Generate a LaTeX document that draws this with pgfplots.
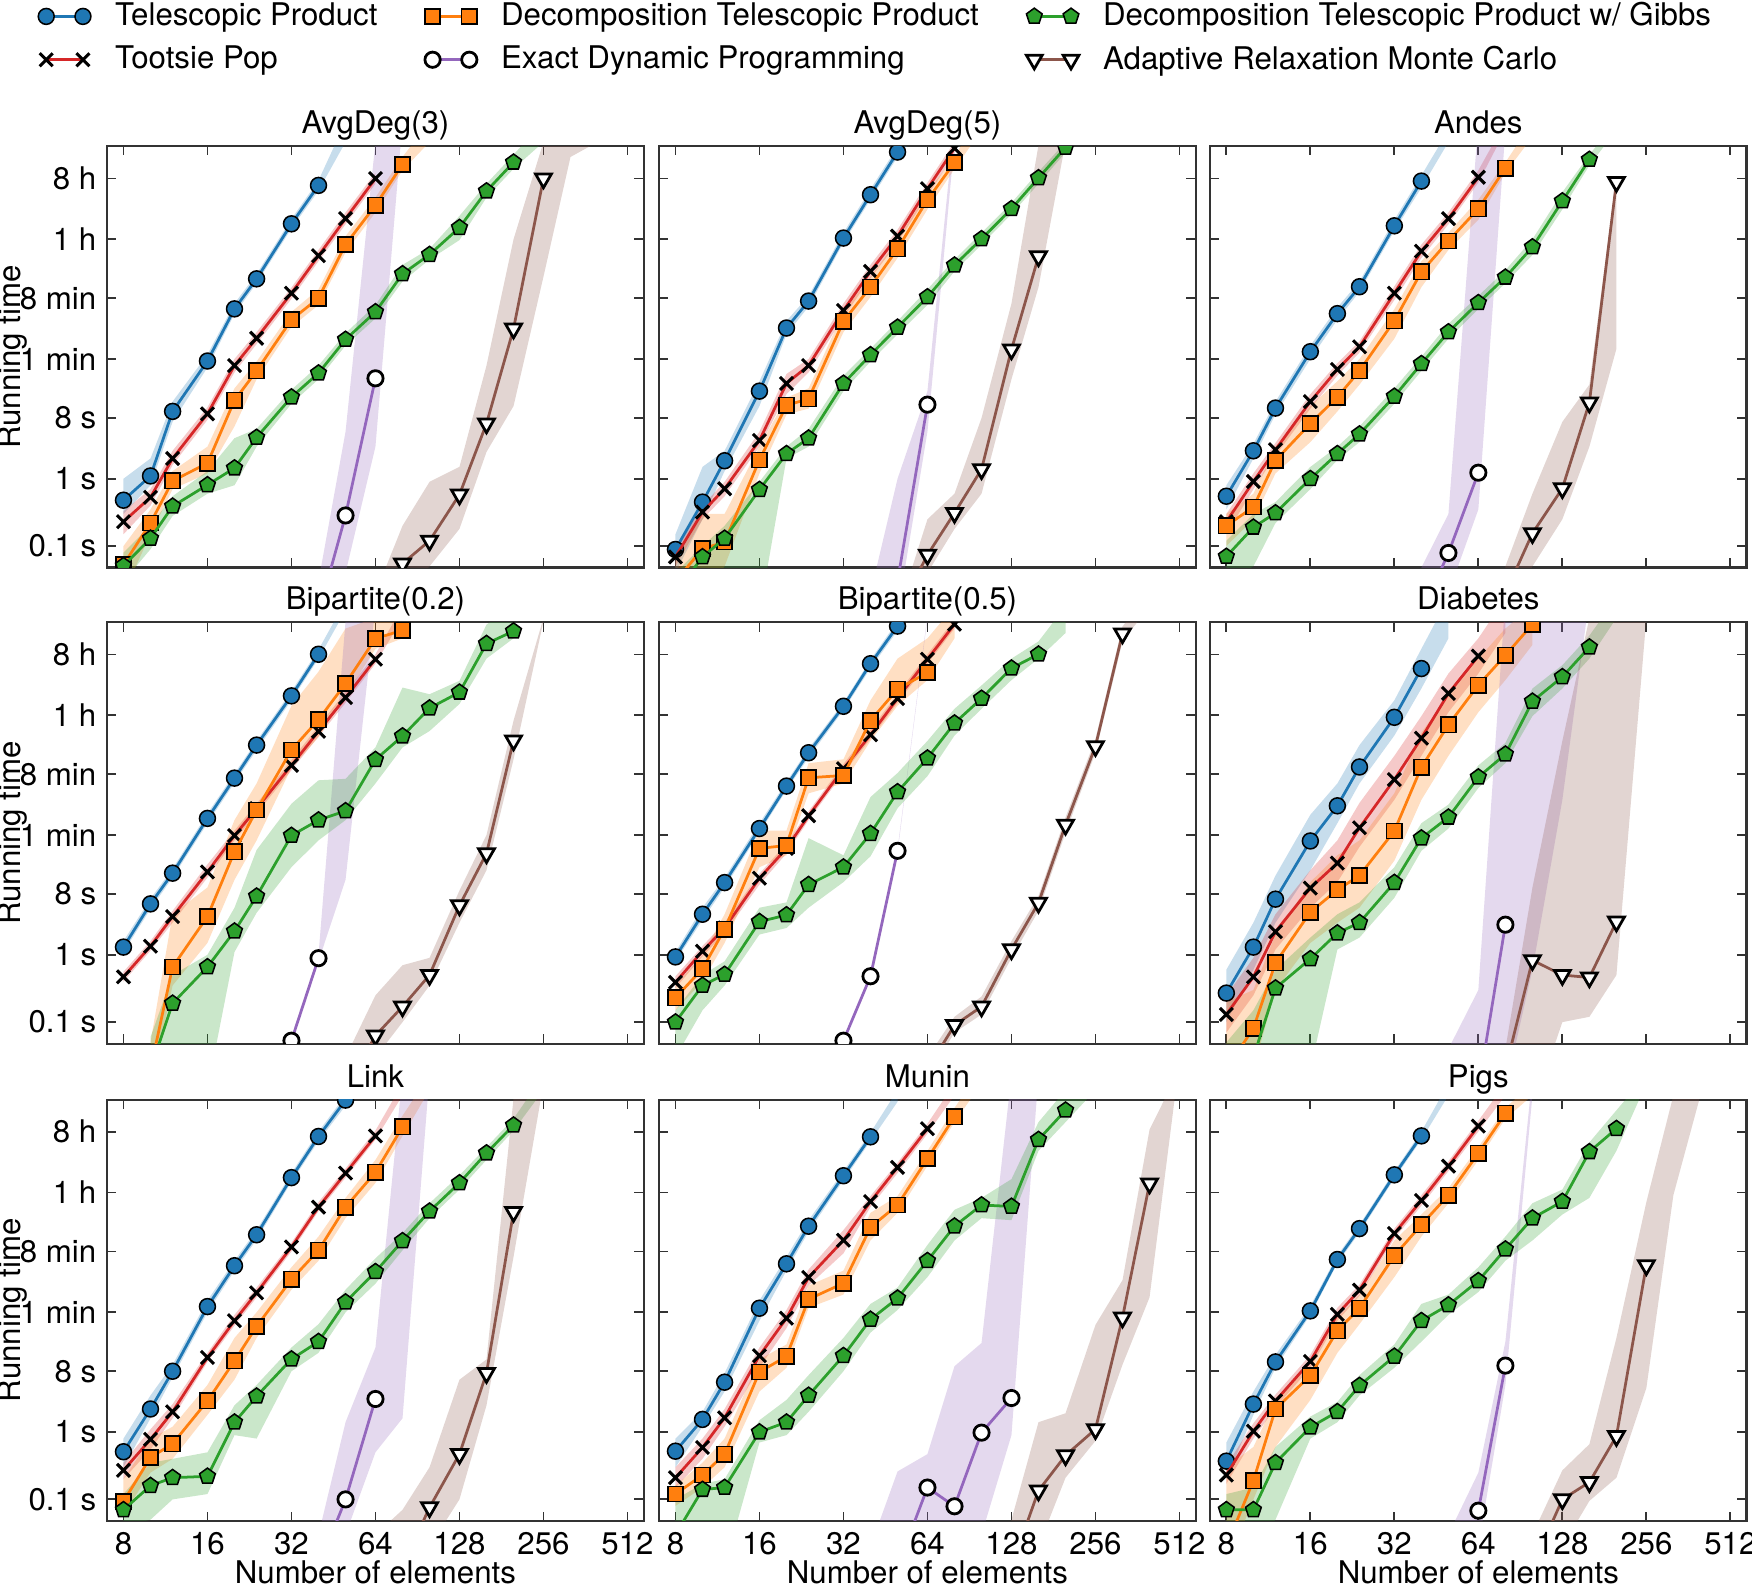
\documentclass[border=0pt]{standalone}
\usepackage{fontspec}
\setmainfont{TeX Gyre Heros}
\usepackage{pgfplots}
\usepackage{pgfplotstable}
\pgfplotsset{compat=1.18}
\usepgfplotslibrary{fillbetween}
\definecolor{cA}{RGB}{31,119,180}
\definecolor{cB}{RGB}{214,39,40}
\definecolor{cC}{RGB}{255,127,14}
\definecolor{cD}{RGB}{148,103,189}
\definecolor{cE}{RGB}{44,160,44}
\definecolor{cF}{RGB}{140,86,75}
\pgfplotsset{legend image code/.code={\draw[mark repeat=2,mark phase=1,#1] plot coordinates {(0pt,0pt) (6pt,0pt) (12pt,0pt)};}}
\newcommand{\band}[2]{%
 \addplot[draw=none, forget plot, name path=lo#2] table[x=x,y=lo]{#1};
 \addplot[draw=none, forget plot, name path=hi#2] table[x=x,y=hi]{#1};
 \addplot[fill=#2, fill opacity=0.25, draw=none, forget plot] fill between[of=lo#2 and hi#2];
}
\newcommand{\serA}[1]{\band{#1}{cA}\addplot[cA, line width=0.9pt, mark=*, mark size=2.6pt, mark options={fill=cA, draw=black, line width=0.5pt}, forget plot] table[x=x,y=y]{#1};}
\newcommand{\serB}[1]{\band{#1}{cB}\addplot[cB, line width=0.9pt, mark=x, mark size=3pt, mark options={draw=black, line width=1pt}, forget plot] table[x=x,y=y]{#1};}
\newcommand{\serC}[1]{\band{#1}{cC}\addplot[cC, line width=0.9pt, mark=square*, mark size=2.5pt, mark options={fill=cC, draw=black, line width=0.5pt}, forget plot] table[x=x,y=y]{#1};}
\newcommand{\serD}[1]{\band{#1}{cD}\addplot[cD, line width=0.9pt, mark=*, mark size=2.5pt, mark options={fill=white, draw=black, line width=0.9pt}, forget plot] table[x=x,y=y]{#1};}
\newcommand{\serE}[1]{\band{#1}{cE}\addplot[cE, line width=0.9pt, mark=pentagon*, mark size=2.7pt, mark options={fill=cE, draw=black, line width=0.5pt}, forget plot] table[x=x,y=y]{#1};}
\newcommand{\serF}[1]{\band{#1}{cF}\addplot[cF, line width=0.9pt, mark=triangle*, mark size=3pt, mark options={fill=white, draw=black, line width=0.9pt, rotate=180}, forget plot] table[x=x,y=y]{#1};}
\renewcommand{\normalsize}{\fontsize{10.2}{12.2}\selectfont}
\begin{document}
\normalsize
% ---------------- AvgDeg(3)
\pgfplotstableread{
x y lo hi
8 0.48 0.3 1.0
10 1.1 0.8 2.0
12 10 7 14
16 56 45 70
20 333 280 400
24 930 800 1100
32 6100 5200 7200
40 22700 19000 27000
50 nan 100000 200000
}\dAa
\pgfplotstableread{
x y lo hi
8 0.23 0.15 0.33
10 0.53 0.4 0.7
12 2.0 1.6 2.6
16 9.2 7.5 11.5
20 48 38 60
24 122 100 150
32 570 470 690
40 2050 1700 2500
50 7300 6000 9000
64 28700 24000 35000
}\dAb
\pgfplotstableread{
x y lo hi
8 0.053 0.02 0.1
10 0.22 0.15 0.35
12 0.93 0.7 1.3
16 1.7 1.2 3.0
20 14.6 6 22
24 40 30 55
32 230 180 300
40 480 380 650
50 3000 2300 4000
64 11500 9000 15000
80 46500 38000 60000
100 nan 100000 200000
}\dAc
\pgfplotstableread{
x y lo hi
40 0.01 0.005 0.03
50 0.285 0.04 5
64 31 3 100000
80 nan 200000 300000
}\dAd
\pgfplotstableread{
x y lo hi
8 0.051 0.03 0.08
10 0.13 0.09 0.2
12 0.39 0.28 0.55
16 0.81 0.6 1.3
20 1.44 0.8 4
24 4.1 3 5.5
32 16.3 13 21
40 37 30 48
50 117 95 145
64 300 240 380
80 1100 850 1500
100 2130 1800 2600
128 5360 3500 8000
160 18700 15000 24000
200 50000 40000 65000
256 nan 100000 200000
}\dAe
\pgfplotstableread{
x y lo hi
64 0.01 0.005 0.02
80 0.055 0.02 0.2
100 0.12 0.05 0.9
128 0.58 0.18 1.5
160 6.6 2.5 48
200 169 12 3600
256 28700 1000 100000
320 nan 60000 200000
400 nan 100000 300000
}\dAf
% ---------------- AvgDeg(5)
\pgfplotstableread{
x y lo hi
8 0.089 0.04 0.15
10 0.45 0.25 1.5
12 1.85 1.3 2.6
16 20 12 28
20 173 140 220
24 435 360 520
32 3750 3200 4500
40 16500 14000 20000
50 71000 60000 85000
64 nan 200000 300000
}\dBa
\pgfplotstableread{
x y lo hi
8 0.069 0.05 0.1
10 0.32 0.25 0.4
12 0.71 0.55 0.9
16 3.7 3 5
20 26 18 36
24 48 38 60
32 316 250 400
40 1200 950 1500
50 4000 3200 5000
64 20300 16000 25000
80 81000 65000 100000
}\dBb
\pgfplotstableread{
x y lo hi
8 0.03 0.01 0.06
10 0.091 0.02 0.3
12 0.115 0.05 0.3
16 1.9 1.2 3
20 12.3 9 16
24 15.4 11 22
32 218 150 300
40 705 500 1000
50 2600 1900 3500
64 13900 10000 18000
80 49500 40000 60000
100 nan 150000 300000
}\dBc
\pgfplotstableread{
x y lo hi
40 nan 0.005 0.02
50 0.03 0.01 1.0
64 12.6 5 20
80 nan 100000 200000
}\dBd
\pgfplotstableread{
x y lo hi
8 0.02 0.005 0.04
10 0.069 0.01 0.1
12 0.13 0.01 0.2
16 0.69 0.01 0.9
20 2.35 2.0 3.0
24 4.0 3.0 5.5
32 26 20 34
40 69 55 85
50 177 140 220
64 500 380 650
80 1480 1200 1800
100 3650 3000 4500
128 10200 8500 12500
160 29300 24000 36000
200 83000 70000 100000
256 nan 200000 300000
}\dBe
\pgfplotstableread{
x y lo hi
50 0.01 0.005 0.01
64 0.074 0.04 0.25
80 0.31 0.18 0.6
100 1.38 0.6 8
128 83 30 400
160 2000 700 90000
200 nan 100000 300000
}\dBf
% ---------------- Andes
\pgfplotstableread{
x y lo hi
8 0.55 0.35 0.8
10 2.6 2 3.3
12 11.2 9 14
16 77 60 95
20 283 230 350
24 710 600 850
32 5700 4800 7000
40 26300 21000 32000
50 nan 100000 150000
}\dCa
\pgfplotstableread{
x y lo hi
8 0.23 0.15 0.3
10 0.91 0.7 1.2
12 2.7 2.2 3.4
16 14 11 18
20 42 34 52
24 91 75 110
32 570 450 720
40 2400 1900 3000
50 7300 6000 9000
64 30000 25000 38000
80 nan 150000 200000
}\dCb
\pgfplotstableread{
x y lo hi
8 0.2 0.1 0.3
10 0.38 0.25 0.6
12 1.87 1.2 3
16 6.6 3.5 12
20 16.3 10 28
24 40 25 60
32 222 120 330
40 1180 700 1700
50 3400 2500 4500
64 10200 7000 14000
80 41000 35000 50000
100 nan 120000 200000
}\dCc
\pgfplotstableread{
x y lo hi
40 0.01 0.005 0.048
50 0.079 0.02 0.3
64 1.23 0.35 200000
80 nan 150000 300000
}\dCd
\pgfplotstableread{
x y lo hi
8 0.07 0.03 0.12
10 0.19 0.05 0.3
12 0.31 0.22 0.45
16 1.0 0.7 1.5
20 2.35 1.9 3
24 4.6 3.5 6
32 16.7 13 22
40 51 40 65
50 151 120 200
64 410 330 520
80 980 800 1250
100 2760 2100 3600
128 13300 10000 18000
160 55000 45000 65000
200 nan 150000 200000
}\dCe
\pgfplotstableread{
x y lo hi
80 0.02 0.01 0.05
100 0.155 0.05 0.6
128 0.72 0.25 7
160 13.5 3 25
200 25500 85 32000
}\dCf
% ---------------- Bipartite(0.2)
\pgfplotstableread{
x y lo hi
8 1.3 1.1 1.6
10 5.7 4.8 6.8
12 16.3 14 19
16 106 90 125
20 420 360 490
24 1300 1100 1500
32 7000 6000 8200
40 29000 25000 34000
50 nan 130000 180000
}\dDa
\pgfplotstableread{
x y lo hi
8 0.47 0.4 0.56
10 1.34 1.15 1.6
12 3.7 3 4.5
16 17 14 22
20 59 50 70
24 148 125 175
32 650 550 780
40 2080 1750 2500
50 6600 5500 8000
64 24500 21000 29000
80 nan 100000 150000
}\dDb
\pgfplotstableread{
x y lo hi
10 0.02 0.01 0.05
12 0.66 0.35 4
16 3.7 1.5 10
20 34 13 100
24 141 50 350
32 1100 600 5000
40 3100 1700 16000
50 10700 7000 70000
64 49500 35000 100000
80 66000 50000 150000
}\dDc
\pgfplotstableread{
x y lo hi
32 0.053 0.05 0.06
40 0.89 0.8 1.0
50 nan 13 90000
64 nan 150000 200000
}\dDd
\pgfplotstableread{
x y lo hi
10 0.02 0.005 0.06
12 0.19 0.01 0.5
16 0.66 0.01 1.0
20 2.24 1.1 5
24 7.4 4.2 36
32 59 20 175
40 100 50 390
50 137 100 410
64 790 350 1200
80 1770 1200 9300
100 4600 2100 7400
128 7900 5300 11700
160 41700 25000 80000
200 64000 50000 150000
}\dDe
\pgfplotstableread{
x y lo hi
50 0.01 0.005 0.03
64 0.063 0.03 0.25
80 0.17 0.1 0.7
100 0.5 0.35 0.9
128 5.4 3 9
160 32 18 60
200 1520 800 3000
256 nan 90000 100000
}\dDf
% ---------------- Bipartite(0.5)
\pgfplotstableread{
x y lo hi
8 0.93 0.8 1.1
10 4.0 3.3 5
12 11.8 10 14
16 75 65 90
20 320 280 370
24 1000 850 1150
32 4900 4300 5600
40 21000 18000 24000
50 76000 65000 90000
}\dEa
\pgfplotstableread{
x y lo hi
8 0.39 0.32 0.48
10 1.13 0.95 1.35
12 2.5 2.1 3
16 13.7 11 16
20 38 32 45
24 116 100 135
32 580 500 680
40 1850 1600 2200
50 6400 5500 7500
64 24500 21000 29000
80 81000 70000 95000
}\dEb
\pgfplotstableread{
x y lo hi
8 0.23 0.15 0.35
10 0.62 0.4 1.0
12 2.4 1.5 4
16 38 20 70
20 42 30 70
24 425 250 700
32 460 350 800
40 3000 1500 6000
50 8800 5000 25000
64 15500 12000 50000
80 nan 50000 150000
}\dEc
\pgfplotstableread{
x y lo hi
32 0.053 0.05 0.056
40 0.48 0.46 0.5
50 35 33 37
64 nan 100000 110000
}\dEd
\pgfplotstableread{
x y lo hi
8 0.1 0.03 0.15
10 0.35 0.15 0.5
12 0.51 0.35 0.8
16 3.1 2 5
20 3.9 2.5 6
24 11 5 54
32 20 12 30
40 63 29 220
50 262 150 500
64 830 450 1500
80 2750 1800 4500
100 6400 4500 10000
128 18000 12000 25000
160 29000 25000 45000
200 nan 60000 150000
}\dEe
\pgfplotstableread{
x y lo hi
64 0.02 0.015 0.03
80 0.09 0.07 0.12
100 0.17 0.13 0.24
128 1.2 0.9 1.6
160 5.9 4.5 7.5
200 85 65 110
256 1250 1000 1600
320 59000 45000 75000
400 nan 150000 250000
}\dEf
% ---------------- Diabetes
\pgfplotstableread{
x y lo hi
8 0.27 0.1 0.6
10 1.3 0.6 3
12 6.7 3 15
16 49 18 120
20 163 90 350
24 615 350 1300
32 3360 1800 6000
40 17800 9000 35000
50 nan 50000 200000
}\dFa
\pgfplotstableread{
x y lo hi
8 0.13 0.07 0.25
10 0.47 0.25 0.9
12 2.2 1.2 4
16 9.8 5 18
20 23 12 50
24 77 40 180
32 400 200 900
40 1650 900 3500
50 7600 4000 15000
64 27300 15000 50000
80 nan 60000 200000
}\dFb
\pgfplotstableread{
x y lo hi
8 0.02 0.005 0.2
10 0.081 0.02 0.3
12 0.76 0.3 2
16 4.3 1.5 12
20 9.2 3 30
24 15 5 50
32 69 25 250
40 610 200 2000
50 2600 900 7000
64 10100 4000 25000
80 28000 12000 70000
100 81000 40000 150000
}\dFc
\pgfplotstableread{
x y lo hi
50 nan 0.005 0.04
64 0.01 0.005 0.3
80 2.8 0.01 200000
100 nan 0.6 300000
128 nan 200 300000
160 nan 200000 300000
}\dFd
\pgfplotstableread{
x y lo hi
8 nan 0.005 0.05
10 0.03 0.01 0.15
12 0.32 0.02 0.6
16 0.87 0.02 1.8
20 2.1 1.2 4
24 3.0 1.8 6
32 11.8 7 20
40 54 35 90
50 110 75 170
64 435 300 650
80 950 700 1400
100 5800 3500 9000
128 13400 9000 20000
160 37000 25000 55000
200 nan 100000 200000
}\dFe
\pgfplotstableread{
x y lo hi
80 0.02 0.005 0.04
100 0.83 0.005 10
128 0.5 0.1 1500
160 0.46 0.12 100000
200 3.1 0.5 200000
256 nan 100000 200000
}\dFf
% ---------------- Link
\pgfplotstableread{
x y lo hi
8 0.51 0.3 0.8
10 2.2 1.6 3.5
12 8.0 6.5 10
16 73 60 90
20 295 250 350
24 850 720 1000
32 6000 5200 7000
40 24500 21000 29000
50 85000 70000 100000
}\dGa
\pgfplotstableread{
x y lo hi
8 0.27 0.2 0.35
10 0.78 0.55 1.1
12 2.0 1.6 2.6
16 12.8 11 15
20 45 38 55
24 117 100 140
32 560 480 650
40 2190 1900 2600
50 7000 6000 8200
64 25000 22000 30000
80 nan 100000 150000
}\dGb
\pgfplotstableread{
x y lo hi
8 0.093 0.06 0.2
10 0.42 0.25 0.8
12 0.67 0.4 1.2
16 2.9 1.8 5
20 11.4 6 25
24 37 25 60
32 185 130 280
40 500 350 800
50 2190 1500 3000
64 7200 5000 11000
80 34000 25000 50000
100 nan 120000 200000
}\dGc
\pgfplotstableread{
x y lo hi
40 0.01 0.005 0.03
50 0.1 0.03 1.4
64 3.1 0.5 18
80 nan 1.6 200000
100 nan 200000 300000
}\dGd
\pgfplotstableread{
x y lo hi
8 0.07 0.04 0.12
10 0.16 0.05 0.35
12 0.21 0.1 0.4
16 0.22 0.12 0.5
20 1.4 0.9 2.5
24 3.4 0.8 5
32 12.1 8 18
40 22 15 40
50 85 60 130
64 240 160 380
80 690 500 900
100 1900 1500 2500
128 5000 4000 6500
160 13900 11000 17000
200 36000 30000 45000
256 nan 120000 200000
}\dGe
\pgfplotstableread{
x y lo hi
64 nan 0.005 0.03
80 0.01 0.005 0.07
100 0.076 0.02 0.3
128 0.47 0.1 6
160 7.5 2.5 12
200 1850 400 90000
256 nan 150000 200000
}\dGf
% ---------------- Munin
\pgfplotstableread{
x y lo hi
8 0.52 0.3 0.8
10 1.54 1.2 2.0
12 5.5 4 7.5
16 69 45 90
20 315 250 400
24 1140 950 1400
32 6400 5500 7500
40 24200 21000 28000
50 nan 80000 120000
}\dHa
\pgfplotstableread{
x y lo hi
8 0.21 0.15 0.3
10 0.59 0.4 0.8
12 1.63 1.2 2.2
16 13.6 9 18
20 49 35 65
24 198 150 260
32 705 450 1000
40 2650 2200 3200
50 8500 7000 10000
64 32000 27000 38000
80 nan 100000 150000
}\dHb
\pgfplotstableread{
x y lo hi
8 0.12 0.08 0.16
10 0.23 0.15 0.35
12 0.47 0.3 0.8
16 7.8 4 12
20 13.3 9 20
24 94 70 150
32 162 110 250
40 1100 700 1800
50 2350 1800 3200
64 11500 9000 15000
80 48000 40000 65000
100 nan 150000 250000
}\dHc
\pgfplotstableread{
x y lo hi
40 nan 0.005 0.02
50 0.01 0.01 0.26
64 0.15 0.02 0.47
80 0.079 0.02 9.5
100 0.98 0.03 21
128 3.2 0.9 200000
160 nan 200000 300000
}\dHd
\pgfplotstableread{
x y lo hi
8 0.03 0.005 0.1
10 0.14 0.005 0.17
12 0.15 0.01 0.2
16 1.0 0.7 1.5
20 1.4 0.9 3
24 3.5 2 7
32 13.6 8 25
40 47 30 80
50 97 65 140
64 350 200 600
80 1140 700 2000
100 2350 1500 3000
128 2240 1400 5700
160 22000 15000 40000
200 60000 40000 120000
256 nan 120000 200000
}\dHe
\pgfplotstableread{
x y lo hi
128 0.01 0.005 0.05
160 0.135 0.02 1.4
200 0.45 0.21 1.9
256 1.1 0.74 39
320 50 10 180
400 4900 100 31000
500 nan 150000 200000
}\dHf
% ---------------- Pigs
\pgfplotstableread{
x y lo hi
8 0.37 0.2 0.7
10 2.6 1.8 4
12 11 9 14
16 63 55 75
20 365 320 420
24 1050 920 1200
32 6600 5800 7500
40 25000 22000 29000
50 nan 100000 150000
}\dIa
\pgfplotstableread{
x y lo hi
8 0.23 0.17 0.32
10 1.03 0.8 1.35
12 2.9 2.3 3.6
16 11.2 9 14
20 56 45 70
24 128 105 155
32 890 750 1050
40 2750 2300 3300
50 8900 7500 10500
64 35000 29000 42000
80 nan 100000 150000
}\dIb
\pgfplotstableread{
x y lo hi
8 0.02 0.01 0.3
10 0.19 0.1 0.6
12 2.2 0.6 3
16 6.9 3 10
20 32 15 50
24 69 40 110
32 415 200 700
40 1200 800 1700
50 3300 2500 4200
64 13800 11000 17000
80 54000 45000 65000
100 nan 100000 150000
128 nan 150000 250000
}\dIc
\pgfplotstableread{
x y lo hi
50 nan 0.02 0.03
64 0.068 0.02 0.25
80 9.7 5 22
100 nan 100000 200000
}\dId
\pgfplotstableread{
x y lo hi
8 0.07 0.02 0.12
10 0.07 0.02 0.15
12 0.35 0.05 0.6
16 1.18 0.8 1.7
20 2.0 1.4 2.8
24 4.9 3.5 7
32 13.3 9 20
40 45 22 80
50 77 55 110
64 176 120 280
80 520 350 800
100 1500 700 2500
128 2650 1700 4000
160 14500 3000 20000
200 32000 15000 60000
256 nan 150000 200000
}\dIe
\pgfplotstableread{
x y lo hi
100 0.01 0.005 0.03
128 0.1 0.02 0.27
160 0.18 0.095 0.66
200 0.87 0.21 25
256 300 4.5 2600
320 nan 3300 100000
400 nan 100000 200000
}\dIf
\begin{tikzpicture}
% Row 1
\begin{axis}[scale only axis, width=175.2pt, height=137.6pt, anchor=south west,
   xmode=log, ymode=log, log basis x=2, xmin=7, xmax=585, ymin=0.048, ymax=86400,
   xtick={8,16,32,64,128,256,512}, ytick={0.1,1,8,60,480,3600,28800},
   xticklabels={}, minor tick style={draw=none}, tick align=inside, major tick length=3pt,
   axis line style={black!80, line width=0.7pt}, tick style={black!80, line width=0.6pt},
   clip marker paths=true, title style={at={(axis description cs:0.5,1)}, anchor=base, yshift=-1.9pt},
   yticklabels={0.1 s,1 s,8 s,1 min,8 min,1 h,8 h}, ylabel={Running time},
   ylabel style={at={(axis description cs:-0.177,0.5)}, anchor=center},
   at={(35.04pt,332.9pt)}, title={AvgDeg(3)},
   legend columns=3, legend cell align=left,
   legend style={draw=none, fill=none, at={(axis description cs:-0.1298,1.3503)}, anchor=north west, inner sep=0pt,
    row sep=3pt, nodes={inner sep=1pt},
    /tikz/every odd column/.append style={column sep=6.9pt},
    /tikz/every even column/.append style={column sep=14.5pt}}]
\serA{\dAa}
\serB{\dAb}
\serC{\dAc}
\serD{\dAd}
\serE{\dAe}
\serF{\dAf}
\addlegendimage{cA, line width=0.9pt, mark=*, mark size=2.6pt, mark options={fill=cA, draw=black, line width=0.5pt}}
\addlegendentry{Telescopic Product}
\addlegendimage{cC, line width=0.9pt, mark=square*, mark size=2.5pt, mark options={fill=cC, draw=black, line width=0.5pt}}
\addlegendentry{Decomposition Telescopic Product}
\addlegendimage{cE, line width=0.9pt, mark=pentagon*, mark size=2.7pt, mark options={fill=cE, draw=black, line width=0.5pt}}
\addlegendentry{Decomposition Telescopic Product w/ Gibbs}
\addlegendimage{cB, line width=0.9pt, mark=x, mark size=3pt, mark options={draw=black, line width=1pt}}
\addlegendentry{Tootsie Pop}
\addlegendimage{cD, line width=0.9pt, mark=*, mark size=2.5pt, mark options={fill=white, draw=black, line width=0.9pt}}
\addlegendentry{Exact Dynamic Programming}
\addlegendimage{cF, line width=0.9pt, mark=triangle*, mark size=3pt, mark options={fill=white, draw=black, line width=0.9pt, rotate=180}}
\addlegendentry{Adaptive Relaxation Monte Carlo}
\end{axis}
\begin{axis}[scale only axis, width=175.2pt, height=137.6pt, anchor=south west,
   xmode=log, ymode=log, log basis x=2, xmin=7, xmax=585, ymin=0.048, ymax=86400,
   xtick={8,16,32,64,128,256,512}, ytick={0.1,1,8,60,480,3600,28800},
   xticklabels={}, yticklabels={}, minor tick style={draw=none}, tick align=inside, major tick length=3pt,
   axis line style={black!80, line width=0.7pt}, tick style={black!80, line width=0.6pt},
   clip marker paths=true, title style={at={(axis description cs:0.5,1)}, anchor=base, yshift=-1.9pt},
   at={(215.35pt,332.9pt)}, title={AvgDeg(5)}]
\serA{\dBa}
\serB{\dBb}
\serC{\dBc}
\serD{\dBd}
\serE{\dBe}
\serF{\dBf}
\end{axis}
\begin{axis}[scale only axis, width=175.2pt, height=137.6pt, anchor=south west,
   xmode=log, ymode=log, log basis x=2, xmin=7, xmax=585, ymin=0.048, ymax=86400,
   xtick={8,16,32,64,128,256,512}, ytick={0.1,1,8,60,480,3600,28800},
   xticklabels={}, yticklabels={}, minor tick style={draw=none}, tick align=inside, major tick length=3pt,
   axis line style={black!80, line width=0.7pt}, tick style={black!80, line width=0.6pt},
   clip marker paths=true, title style={at={(axis description cs:0.5,1)}, anchor=base, yshift=-1.9pt},
   at={(395.3pt,332.9pt)}, title={Andes}]
\serA{\dCa}
\serB{\dCb}
\serC{\dCc}
\serD{\dCd}
\serE{\dCe}
\serF{\dCf}
\end{axis}
% Row 2
\begin{axis}[scale only axis, width=175.2pt, height=137.6pt, anchor=south west,
   xmode=log, ymode=log, log basis x=2, xmin=7, xmax=585, ymin=0.048, ymax=86400,
   xtick={8,16,32,64,128,256,512}, ytick={0.1,1,8,60,480,3600,28800},
   xticklabels={}, minor tick style={draw=none}, tick align=inside, major tick length=3pt,
   axis line style={black!80, line width=0.7pt}, tick style={black!80, line width=0.6pt},
   clip marker paths=true, title style={at={(axis description cs:0.5,1)}, anchor=base, yshift=-1.9pt},
   yticklabels={0.1 s,1 s,8 s,1 min,8 min,1 h,8 h}, ylabel={Running time},
   ylabel style={at={(axis description cs:-0.177,0.5)}, anchor=center},
   at={(35.04pt,177.4pt)}, title={Bipartite(0.2)}]
\serA{\dDa}
\serB{\dDb}
\serC{\dDc}
\serD{\dDd}
\serE{\dDe}
\serF{\dDf}
\end{axis}
\begin{axis}[scale only axis, width=175.2pt, height=137.6pt, anchor=south west,
   xmode=log, ymode=log, log basis x=2, xmin=7, xmax=585, ymin=0.048, ymax=86400,
   xtick={8,16,32,64,128,256,512}, ytick={0.1,1,8,60,480,3600,28800},
   xticklabels={}, yticklabels={}, minor tick style={draw=none}, tick align=inside, major tick length=3pt,
   axis line style={black!80, line width=0.7pt}, tick style={black!80, line width=0.6pt},
   clip marker paths=true, title style={at={(axis description cs:0.5,1)}, anchor=base, yshift=-1.9pt},
   at={(215.35pt,177.4pt)}, title={Bipartite(0.5)}]
\serA{\dEa}
\serB{\dEb}
\serC{\dEc}
\serD{\dEd}
\serE{\dEe}
\serF{\dEf}
\end{axis}
\begin{axis}[scale only axis, width=175.2pt, height=137.6pt, anchor=south west,
   xmode=log, ymode=log, log basis x=2, xmin=7, xmax=585, ymin=0.048, ymax=86400,
   xtick={8,16,32,64,128,256,512}, ytick={0.1,1,8,60,480,3600,28800},
   xticklabels={}, yticklabels={}, minor tick style={draw=none}, tick align=inside, major tick length=3pt,
   axis line style={black!80, line width=0.7pt}, tick style={black!80, line width=0.6pt},
   clip marker paths=true, title style={at={(axis description cs:0.5,1)}, anchor=base, yshift=-1.9pt},
   at={(395.3pt,177.4pt)}, title={Diabetes}]
\serA{\dFa}
\serB{\dFb}
\serC{\dFc}
\serD{\dFd}
\serE{\dFe}
\serF{\dFf}
\end{axis}
% Row 3
\begin{axis}[scale only axis, width=175.2pt, height=137.6pt, anchor=south west,
   xmode=log, ymode=log, log basis x=2, xmin=7, xmax=585, ymin=0.048, ymax=86400,
   xtick={8,16,32,64,128,256,512}, ytick={0.1,1,8,60,480,3600,28800},
   minor tick style={draw=none}, tick align=inside, major tick length=3pt,
   axis line style={black!80, line width=0.7pt}, tick style={black!80, line width=0.6pt},
   clip marker paths=true, title style={at={(axis description cs:0.5,1)}, anchor=base, yshift=-1.9pt},
   yticklabels={0.1 s,1 s,8 s,1 min,8 min,1 h,8 h}, ylabel={Running time},
   ylabel style={at={(axis description cs:-0.177,0.5)}, anchor=center},
   xticklabels={8,16,32,64,128,256,512}, xlabel={Number of elements},
   xlabel style={at={(axis description cs:0.5,-0.148)}, anchor=base},
   at={(35.04pt,21.5pt)}, title={Link}]
\serA{\dGa}
\serB{\dGb}
\serC{\dGc}
\serD{\dGd}
\serE{\dGe}
\serF{\dGf}
\end{axis}
\begin{axis}[scale only axis, width=175.2pt, height=137.6pt, anchor=south west,
   xmode=log, ymode=log, log basis x=2, xmin=7, xmax=585, ymin=0.048, ymax=86400,
   xtick={8,16,32,64,128,256,512}, ytick={0.1,1,8,60,480,3600,28800},
   yticklabels={}, minor tick style={draw=none}, tick align=inside, major tick length=3pt,
   axis line style={black!80, line width=0.7pt}, tick style={black!80, line width=0.6pt},
   clip marker paths=true, title style={at={(axis description cs:0.5,1)}, anchor=base, yshift=-1.9pt},
   xticklabels={8,16,32,64,128,256,512}, xlabel={Number of elements},
   xlabel style={at={(axis description cs:0.5,-0.148)}, anchor=base},
   at={(215.35pt,21.5pt)}, title={Munin}]
\serA{\dHa}
\serB{\dHb}
\serC{\dHc}
\serD{\dHd}
\serE{\dHe}
\serF{\dHf}
\end{axis}
\begin{axis}[scale only axis, width=175.2pt, height=137.6pt, anchor=south west,
   xmode=log, ymode=log, log basis x=2, xmin=7, xmax=585, ymin=0.048, ymax=86400,
   xtick={8,16,32,64,128,256,512}, ytick={0.1,1,8,60,480,3600,28800},
   yticklabels={}, minor tick style={draw=none}, tick align=inside, major tick length=3pt,
   axis line style={black!80, line width=0.7pt}, tick style={black!80, line width=0.6pt},
   clip marker paths=true, title style={at={(axis description cs:0.5,1)}, anchor=base, yshift=-1.9pt},
   xticklabels={8,16,32,64,128,256,512}, xlabel={Number of elements},
   xlabel style={at={(axis description cs:0.5,-0.148)}, anchor=base},
   at={(395.3pt,21.5pt)}, title={Pigs}]
\serA{\dIa}
\serB{\dIb}
\serC{\dIc}
\serD{\dId}
\serE{\dIe}
\serF{\dIf}
\end{axis}
\pgfresetboundingbox
\path[use as bounding box] (0pt,0pt) rectangle (572.3pt,518.3pt);
\end{tikzpicture}
\end{document}
